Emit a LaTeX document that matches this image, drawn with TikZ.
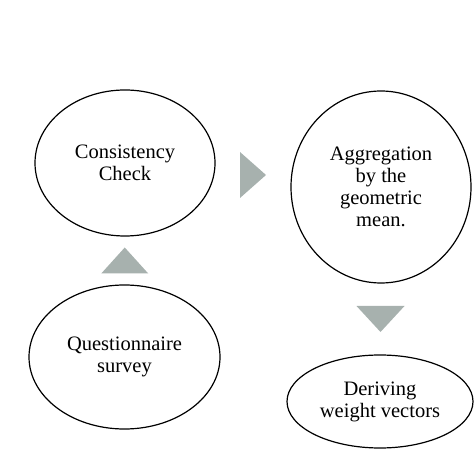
\documentclass[tikz,border=0pt]{standalone}
\usepackage{fontspec}
\setmainfont{Liberation Serif}
\usetikzlibrary{shapes.geometric,calc}
\definecolor{arrowgray}{RGB}{167,177,174}

\tikzset{
  stage/.style={ellipse,draw,line width=1.2pt,inner sep=0pt,align=center,
    font=\fontsize{20.5}{22}\selectfont},
}

\begin{document}
\begin{tikzpicture}[x=1pt,y=1pt]
  \useasboundingbox (0,0) rectangle (474,474);
  % stages
  \node[stage,minimum width=180,minimum height=146] (cc) at (125,311) {Consistency\\Check};
  \node[stage,minimum width=180,minimum height=192] (ag) at (381,287) {Aggregation\\by the\\geometric\\mean.};
  \node[stage,minimum width=191,minimum height=144] (qs) at (124.5,117) {Questionnaire\\survey};
  \node[stage,minimum width=186,minimum height=93] (dw) at (380,72.5) {Deriving\\weight vectors};
  % arrows between stages
  \coordinate (m1) at ($(qs.north)!0.5!(cc.south)$);
  \coordinate (m2) at ($(cc.east)!0.5!(ag.west)$);
  \coordinate (m3) at ($(ag.south)!0.5!(dw.north)$);
  \fill[arrowgray] ($(m1)+(-23.5,-13)$) -- ($(m1)+(23.5,-13)$) -- ($(m1)+(0,13)$) -- cycle;
  \fill[arrowgray] ($(m2)+(-13,-23)$) -- ($(m2)+(-13,23)$) -- ($(m2)+(13,0)$) -- cycle;
  \fill[arrowgray] ($(m3)+(-24,13)$) -- ($(m3)+(24,13)$) -- ($(m3)+(0,-13)$) -- cycle;
\end{tikzpicture}
\end{document}
